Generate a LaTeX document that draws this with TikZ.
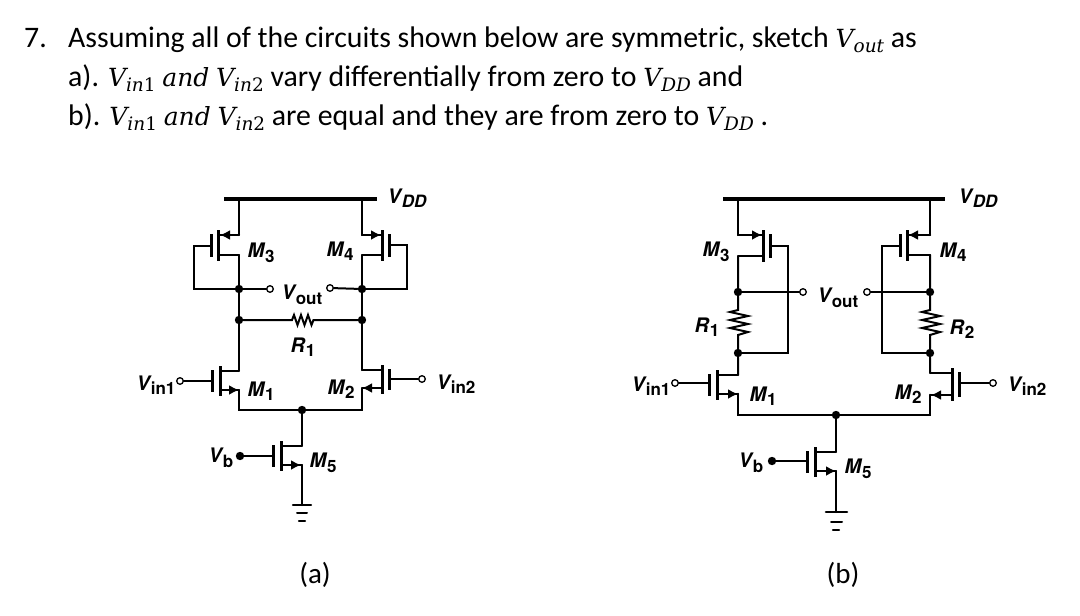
\documentclass[tikz,border=0pt]{standalone}
\usepackage{fontspec}
\setmainfont{Carlito}
\newfontfamily\hv{TeX Gyre Heros}
\newfontfamily\mt{DejaVu Serif}
\usetikzlibrary{arrows.meta}
% header math
\newcommand{\hm}[2]{{\mt\itshape\fontsize{25}{25}\selectfont #1\raisebox{-5pt}{\fontsize{18.5}{18.5}\selectfont #2}}}
\newcommand{\hi}[1]{{\mt\itshape\fontsize{25}{25}\selectfont #1}}
% circuit labels: main letter, italic-or-upright subscript
\newcommand{\cl}[2]{{\hv\bfseries\itshape\fontsize{20}{20}\selectfont #1\hspace{0.8pt}\raisebox{-4.5pt}{\fontsize{17}{17}\selectfont #2}}}
\newcommand{\cu}[2]{{\hv\bfseries\itshape\fontsize{20}{20}\selectfont #1\hspace{0.8pt}\raisebox{-4.5pt}{\upshape\fontsize{17}{17}\selectfont #2}}}
\tikzset{
  wire/.style={line width=2pt,line cap=round,line join=miter},
  rail/.style={line width=3.4pt},
  bar/.style={line width=3pt},
  dot/.style={circle,fill=black,inner sep=0pt,minimum size=8.4pt},
  port/.style={circle,draw=black,fill=white,line width=1.3pt,inner sep=0pt,minimum size=6.6pt},
  lab/.style={inner sep=0pt,anchor=center},
  head/.style={inner sep=0pt,anchor=base west,font=\fontsize{29.8}{29.8}\selectfont},
  captxt/.style={inner sep=0pt,anchor=center,font=\fontsize{29}{29}\selectfont}
}
% name, gate bar x, channel x, wire x, source y, drain y, gate y, arrow start x, arrow tip x
\newcommand{\mos}[9]{%
  \coordinate (#1s) at (#4,#5);
  \coordinate (#1d) at (#4,#6);
  \coordinate (#1g) at (#2,#7);
  \coordinate (#1cs) at (#3,#5);
  \coordinate (#1cd) at (#3,#6);
  \draw[bar] (#2,{min(#5,#6)-1}) -- (#2,{max(#5,#6)+2});
  \draw[bar] (#3,{min(#5,#6)-5}) -- (#3,{max(#5,#6)+6});
  \draw[wire] (#1cd) -- (#1d);
  \draw[wire] (#1cs) -- (#1s);
  \draw[wire,-{Latex[length=10pt,width=10pt]}] (#8,#5) -- (#9,#5);
}
\begin{document}
\begin{tikzpicture}[x=1pt,y=-1pt]
\useasboundingbox (0,0) rectangle (1080,616);
% header
\node[head] (t1) at (24,47) {7.};
\node[head] (t2) at (68,47) {Assuming all of the circuits shown below are symmetric, sketch \hm{V}{out} as};
\node[head] (t3) at (68,86) {a). \hm{V}{in{\upshape 1}} \hi{and} \hm{V}{in{\upshape 2}} vary differentially from zero to \hm{V}{DD} and};
\node[head] (t4) at (68,125) {b). \hm{V}{in{\upshape 1}} \hi{and} \hm{V}{in{\upshape 2}} are equal and they are from zero to \hm{V}{DD} .};

%%%%% circuit (a)
\coordinate (aL) at (224,199); \coordinate (aR) at (377,199);
\draw[rail] (aL) -- (aR);
\coordinate (a3t) at (239,199); \coordinate (a4t) at (362,199);
\mos{am3}{211}{218}{239}{235}{255}{246}{239}{220}
\mos{am4}{389}{382}{362}{235}{255}{245}{362}{381}
\mos{am1}{212}{220}{239}{390}{371}{381}{220}{239}
\mos{am2}{389}{382}{362}{388}{370}{379}{382}{362}
\mos{am5}{273}{281}{302}{465}{446}{456}{281}{301}
\node[dot] (aA) at (239,289) {};
\node[dot] (aB) at (362,289) {};
\node[dot] (aC) at (239,320) {};
\node[dot] (aD) at (362,320) {};
\node[dot] (aT) at (302,410) {};
\node[dot] (aVb) at (240,456) {};
\node[port] (aO1) at (270,289) {};
\node[port] (aO2) at (330,288) {};
\node[port] (aI1) at (180,381) {};
\node[port] (aI2) at (422,379) {};
\coordinate (aTl) at (239,410); \coordinate (aTr) at (362,410);
\coordinate (aG) at (302,505);
\coordinate (aF3) at (194,246); \coordinate (aF3b) at (194,289);
\coordinate (aF4) at (407,245); \coordinate (aF4b) at (407,289);
\coordinate (aRa) at (292,320); \coordinate (aRb) at (315,320);
\draw[wire] (a3t) -- (am3s); \draw[wire] (a4t) -- (am4s);
\draw[wire] (am3d) -- (aA) -- (aC) -- (am1d);
\draw[wire] (am4d) -- (aB) -- (aD) -- (am2d);
\draw[wire] (am3g) -- (aF3) -- (aF3b) -- (aA);
\draw[wire] (am4g) -- (aF4) -- (aF4b) -- (aB);
\draw[wire] (aA) -- (aO1);
\draw[wire] (aB) -- (aO2);
\draw[wire] (aC) -- (aRa) -- ++(2,-5) -- ++(3.5,10) -- ++(3.5,-10) -- ++(3.5,10) -- ++(3.5,-10) -- ++(3.5,10) -- ++(2,-5) -- (aRb) -- (aD);
\draw[wire] (aI1) -- (am1g);
\draw[wire] (aI2) -- (am2g);
\draw[wire] (am1s) -- (aTl) -- (aT) -- (aTr) -- (am2s);
\draw[wire] (aT) -- (am5d);
\draw[wire] (aVb) -- (am5g);
\draw[wire] (am5s) -- (aG);
\draw[wire,line width=2.2pt] (293,505) -- (311,505);
\draw[wire] (297,513) -- (307,513);
\draw[wire,line width=2.4pt] (299,521) -- (305,521);
\node[lab] (aVDD) at (407,198) {\cl{V}{DD}};
\node[lab] (aM3) at (261,253) {\cu{M}{3}};
\node[lab] (aM4) at (340,251) {\cu{M}{4}};
\node[lab] (aVo) at (302,295) {\cu{V}{out}};
\node[lab] (aR1) at (303,347) {\cu{R}{1}};
\node[lab] (aM1) at (261,391) {\cu{M}{1}};
\node[lab] (aM2) at (341,389) {\cu{M}{2}};
\node[lab] (aV1) at (156,385) {\cu{V}{in1}};
\node[lab] (aV2) at (456,384) {\cu{V}{in2}};
\node[lab] (aVbl) at (221,458) {\cu{V}{b}};
\node[lab] (aM5) at (323,463) {\cu{M}{5}};
\node[captxt] (aCap) at (315,575) {(a)};

%%%%% circuit (b)
\coordinate (bL) at (723,199); \coordinate (bR) at (945,199);
\draw[rail] (bL) -- (bR);
\coordinate (b3t) at (738,199); \coordinate (b4t) at (930,199);
\mos{bm3}{770}{763}{738}{235}{256}{246}{738}{762}
\mos{bm4}{900}{907}{930}{235}{255}{246}{930}{908}
\mos{bm1}{709}{717}{738}{394}{375}{383}{717}{738}
\mos{bm2}{959}{952}{930}{395}{373}{383}{952}{931}
\mos{bm5}{807}{815}{836}{471}{452}{461}{815}{836}
\node[dot] (bA) at (738,292) {};
\node[dot] (bB) at (930,292) {};
\node[dot] (bC) at (738,353) {};
\node[dot] (bD) at (930,353) {};
\node[dot] (bT) at (836,415) {};
\node[dot] (bVb) at (772,461) {};
\node[port] (bO1) at (803,292) {};
\node[port] (bO2) at (867,292) {};
\node[port] (bI1) at (675,383) {};
\node[port] (bI2) at (993,383) {};
\coordinate (bTl) at (738,415); \coordinate (bTr) at (930,415);
\coordinate (bG) at (836,512);
\coordinate (bF3) at (788,246); \coordinate (bF3b) at (788,353);
\coordinate (bF4) at (882,246); \coordinate (bF4b) at (882,353);
\coordinate (bRa) at (738,310); \coordinate (bRb) at (738,335);
\coordinate (bRc) at (930,310); \coordinate (bRd) at (930,335);
\draw[wire] (b3t) -- (bm3s); \draw[wire] (b4t) -- (bm4s);
\draw[wire] (bm3d) -- (bA) -- (bRa) -- ++(-8,2) -- ++(18,4) -- ++(-18,4) -- ++(18,4) -- ++(-18,4) -- ++(18,4) -- ++(-10,3) -- (bRb) -- (bC) -- (bm1d);
\draw[wire] (bm4d) -- (bB) -- (bRc) -- ++(-8,2) -- ++(18,4) -- ++(-18,4) -- ++(18,4) -- ++(-18,4) -- ++(18,4) -- ++(-10,3) -- (bRd) -- (bD) -- (bm2d);
\draw[wire] (bm3g) -- (bF3) -- (bF3b) -- (bC);
\draw[wire] (bm4g) -- (bF4) -- (bF4b) -- (bD);
\draw[wire] (bA) -- (bO1);
\draw[wire] (bB) -- (bO2);
\draw[wire] (bI1) -- (bm1g);
\draw[wire] (bI2) -- (bm2g);
\draw[wire,line width=2.6pt] (bm1s) -- (bTl) -- (bT) -- (bTr) -- (bm2s);
\draw[wire] (bT) -- (bm5d);
\draw[wire] (bVb) -- (bm5g);
\draw[wire] (bm5s) -- (bG);
\draw[wire,line width=2.6pt] (826,512) -- (847,512);
\draw[wire] (831,522) -- (842,522);
\draw[wire,line width=2.4pt] (833,530) -- (839,530);
\node[lab] (bVDD) at (978,198) {\cl{V}{DD}};
\node[lab] (bM3) at (716,252) {\cu{M}{3}};
\node[lab] (bM4) at (953,252) {\cu{M}{4}};
\node[lab] (bVo) at (838,298) {\cu{V}{out}};
\node[lab] (bR1) at (707,327) {\cu{R}{1}};
\node[lab] (bR2) at (962,329) {\cu{R}{2}};
\node[lab] (bM1) at (763,396) {\cu{M}{1}};
\node[lab] (bM2) at (908,394) {\cu{M}{2}};
\node[lab] (bV1) at (651,386) {\cu{V}{in1}};
\node[lab] (bV2) at (1027,386) {\cu{V}{in2}};
\node[lab] (bVbl) at (751,463) {\cu{V}{b}};
\node[lab] (bM5) at (858,469) {\cu{M}{5}};
\node[captxt] (bCap) at (843,575) {(b)};
\end{tikzpicture}
\end{document}
